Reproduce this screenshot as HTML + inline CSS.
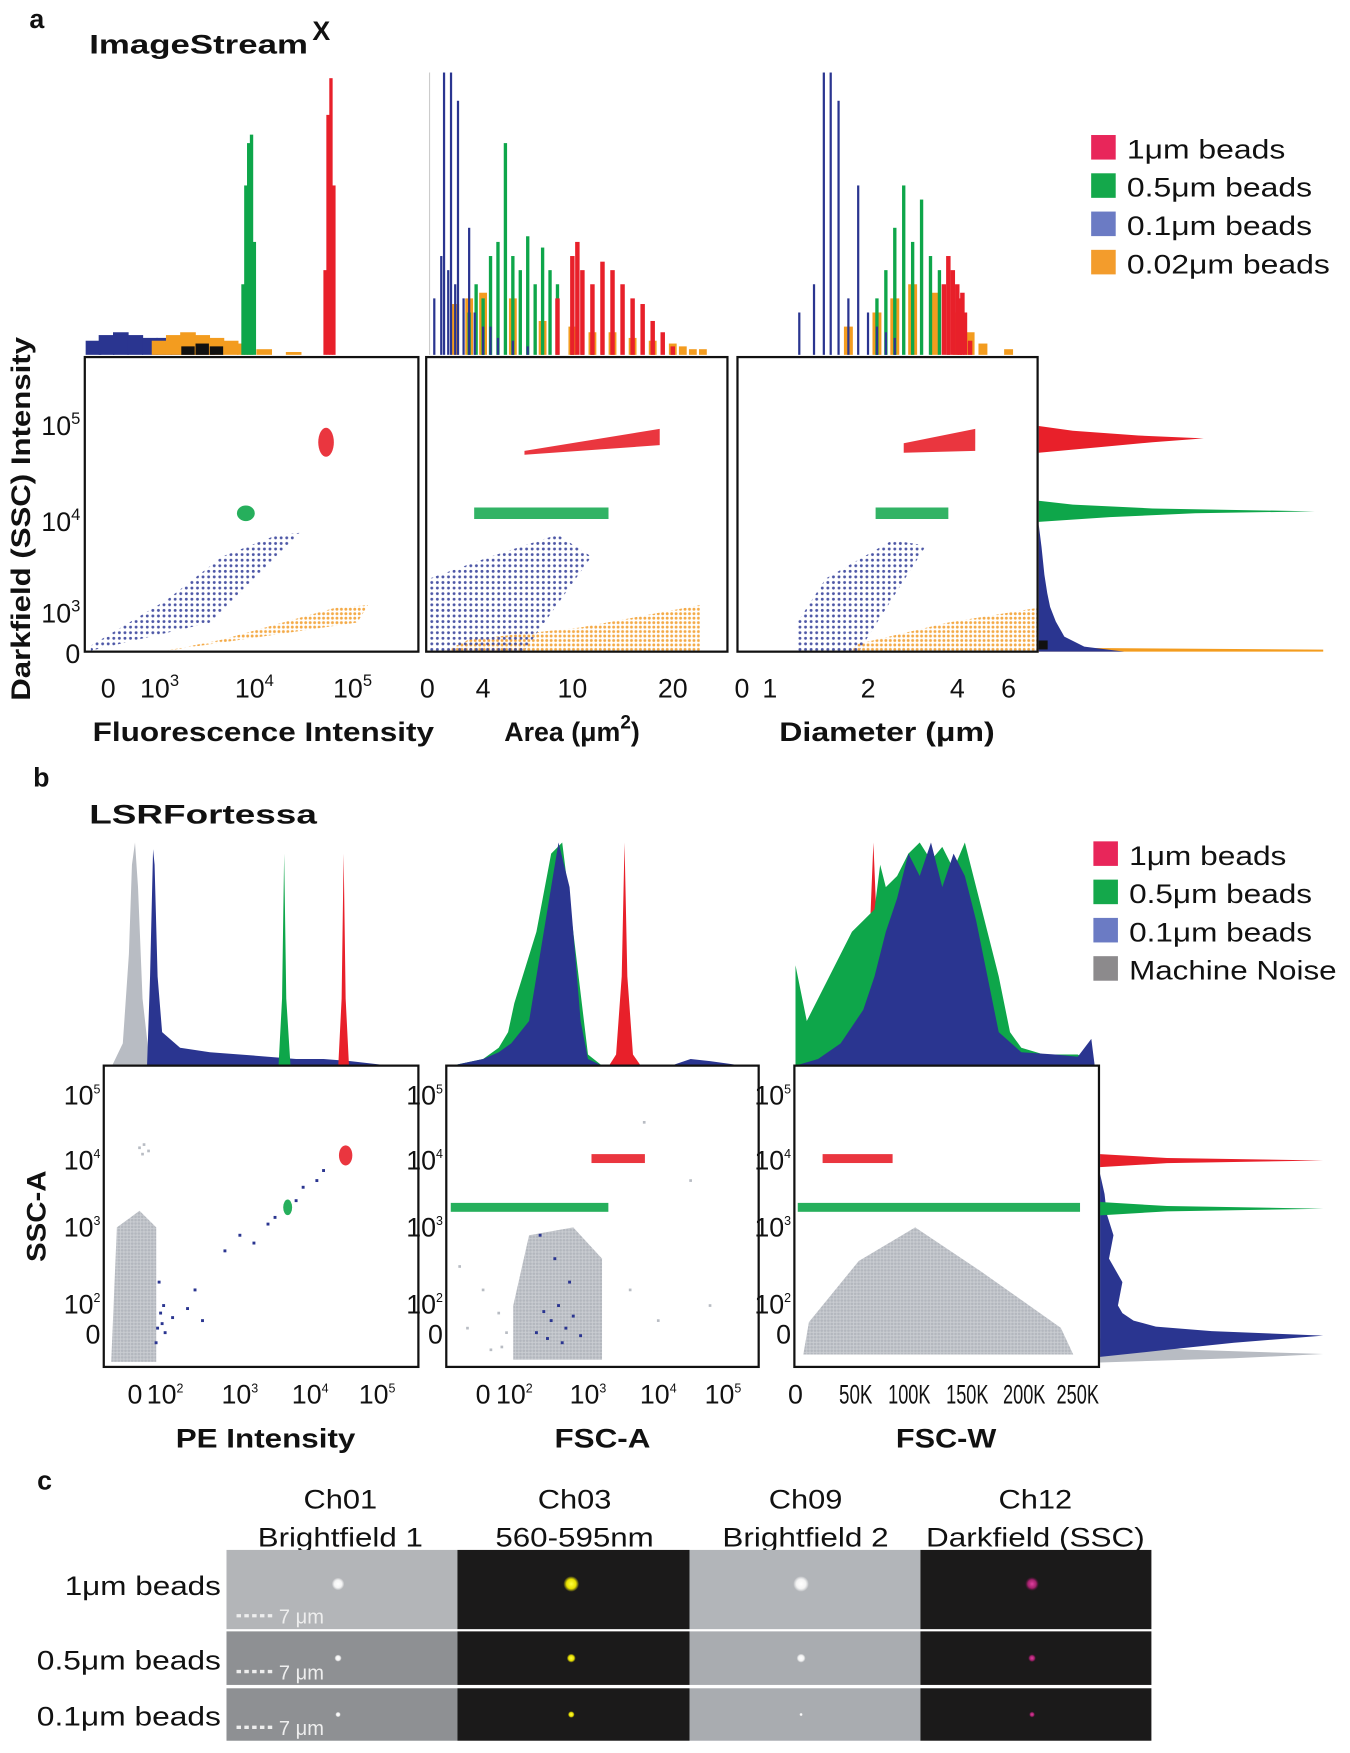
<!DOCTYPE html>
<html><head><meta charset="utf-8"><title>Bead figure</title>
<style>
html,body{margin:0;padding:0;background:#fff;}
svg{display:block;}
text{font-family:"Liberation Sans",sans-serif;}
.t{font-size:24px;fill:#111;}
.b{font-weight:bold;}
</style></head>
<body>
<svg id="fig" xmlns="http://www.w3.org/2000/svg" width="1350" height="1753" viewBox="0 0 1210 1571" preserveAspectRatio="none">
<defs>
<pattern id="pBlue" patternUnits="userSpaceOnUse" width="5" height="5"><circle cx="2" cy="2" r="1.3" fill="#2e3a96" opacity="0.85"/></pattern>
<pattern id="pOrange" patternUnits="userSpaceOnUse" width="4" height="4"><circle cx="2" cy="2" r="1.3" fill="#f3a133" opacity="0.9"/></pattern>
<pattern id="pGray" patternUnits="userSpaceOnUse" width="3" height="3"><rect width="3" height="3" fill="#c9ccd1"/><circle cx="1.5" cy="1.5" r="1.2" fill="#b3b7be"/></pattern>
<radialGradient id="gYel"><stop offset="0" stop-color="#ffff40"/><stop offset="0.6" stop-color="#e8e000"/><stop offset="1" stop-color="#e8e000" stop-opacity="0"/></radialGradient>
<radialGradient id="gWhite"><stop offset="0" stop-color="#fff"/><stop offset="0.6" stop-color="#f4f4f4"/><stop offset="1" stop-color="#fff" stop-opacity="0"/></radialGradient>
<radialGradient id="gMag"><stop offset="0" stop-color="#e040a0"/><stop offset="0.6" stop-color="#a0206a"/><stop offset="1" stop-color="#601040" stop-opacity="0"/></radialGradient>
</defs>
<g id="root"></g>
</svg>
<script>
// ---------------- DATA ----------------
const fluorBlueX=[2.3,2.45,2.6,2.75,2.9,3.05,3.2,3.35,3.5];
const fluorBlueH=[5,7,8,7,6,6,5,4,3];
const fluorOrangeX=[3.0,3.15,3.3,3.45,3.6,3.75,3.9,4.1,4.4];
const fluorOrangeH=[5,7,8,7,6,5,4,2,1];
const fluorBlackX=[3.3,3.45,3.6];
const fluorBlackH=[3,4,3];
const fluorGreenX=[3.88,3.91,3.94,3.97,4.0];
const fluorGreenH=[25,60,75,78,40];
const fluorRedX=[4.72,4.75,4.78,4.81];
const fluorRedH=[30,85,98,60];

const areaBlueX=[0.5,1.0,1.2,1.5,1.7,2.0,2.2,2.6,3.0,3.4,4.0,4.5,5.0,6.0,7.0];
const areaBlueH=[20,35,100,30,100,25,90,20,45,15,10,10,6,5,3];
const areaOrangeX=[2,3,4,6,8,10,12,14,16,18,20,22,24,26];
const areaOrangeH=[18,20,22,20,12,10,8,8,6,5,4,3,2,2];
const areaGreenX=[3,3.5,4,4.5,5,5.5,6,6.5,7,7.5,8,8.5,9,10,11,12,13];
const areaGreenH=[15,25,20,35,40,75,35,30,42,25,38,30,25,30,20,15,10];
const areaRedX=[9,10,10.5,11,12,13,14,15,16,17,18,19,20];
const areaRedH=[20,35,40,30,25,33,30,25,20,18,12,8,3];

const diamBlueX=[1.3,1.45,1.55,1.62,1.7,1.8,1.9,2.0,2.2,2.4,2.6];
const diamBlueH=[15,25,100,100,90,20,60,15,10,8,6];
const diamOrangeX=[1.8,2.2,2.6,3.0,3.5,4.0,4.5,5,6];
const diamOrangeH=[10,15,20,25,22,15,8,4,2];
const diamGreenX=[2.2,2.4,2.6,2.8,3.0,3.2,3.4,3.6,3.8];
const diamGreenH=[20,30,45,60,40,55,35,30,20];
const diamRedX=[3.7,3.8,3.9,4.0,4.1,4.2,4.3,4.5];
const diamRedH=[25,35,30,25,20,22,15,5];

const sscRedY=[4.7,4.76,4.81,4.85,4.88,4.93,4.98];
const sscRedL=[0,22,40,58,35,12,0];
const sscGreenY=[3.98,4.03,4.07,4.09,4.12,4.16,4.2];
const sscGreenL=[0,25,55,97,40,12,0];
const sscBlueY=[2.6,2.65,2.75,2.9,3.05,3.2,3.4,3.7,3.95];
const sscBlueL=[30,16,9,6,4,3,2,1,0];
const sscOrangeY=[2.6,2.62,2.64];
const sscOrangeL=[100,100,0];

const fluorBlueCloudX=[2.27,3.54,4.47,4.24,3.66,3.08,2.27];
const fluorBlueCloudY=[2.61,2.89,3.86,3.84,3.6,3.13,2.66];
const fluorOrangeBandX=[3.08,5.05,5.16,4.82,3.66];
const fluorOrangeBandY=[2.61,2.89,3.07,3.04,2.72];
const fluorRedCluster=[4.73,4.81];
const fluorGreenCluster=[3.91,4.07];
const areaBlueCloudX=[0.16,6.78,11.9,9.0,4.5,0.16];
const areaBlueCloudY=[2.61,2.61,3.6,3.84,3.6,3.36];
const areaOrangeBandX=[1.36,25.4,25.4,10.8,2.96];
const areaOrangeBandY=[2.61,2.61,3.07,2.84,2.72];
const areaRedBandX=[6.78,18.7,18.7,6.78];
const areaRedBandY=[4.72,4.95,4.78,4.68];
const areaGreenBandX=[3.36,13.6,13.6,3.36];
const areaGreenBandY=[4.13,4.13,4.01,4.01];
const diamBlueCloudX=[1.28,1.91,3.3,2.55,1.57,1.28];
const diamBlueCloudY=[2.61,2.61,3.72,3.78,3.36,2.89];
const diamOrangeBandX=[1.80,7.13,7.13,3.8,1.91];
const diamOrangeBandY=[2.61,2.61,3.04,2.89,2.68];
const diamRedBandX=[2.8,4.7,4.7,2.8];
const diamRedBandY=[4.80,4.95,4.72,4.70];
const diamGreenBandX=[2.17,3.8,3.8,2.17];
const diamGreenBandY=[4.13,4.13,4.01,4.01];

const peGrayX=[-1.5,-0.8,-0.4,-0.2,0,0.2,0.5,1.0];
const peGrayH=[0,10,50,90,100,80,30,0];
const peBlueX=[0.8,1.0,1.2,1.3,1.5,1.8,2.2,2.6,3.0,3.4,3.8,4.2,4.6,5.2];
const peBlueH=[0,40,97,90,40,15,8,6,5,4,3,3,2,0];
const peGreenX=[3.55,3.6,3.63,3.66,3.72];
const peGreenH=[0,30,95,30,0];
const peRedX=[4.42,4.47,4.5,4.53,4.58];
const peRedH=[0,30,95,30,0];
const fscaGreenX=[-2,0,1,1.6,2.0,2.3,2.5,2.65,2.8,3.0,3.2];
const fscaGreenH=[0,3,8,15,28,60,95,100,60,5,0];
const fscaBlueX=[-2,0,1,1.8,2.2,2.45,2.6,2.75,2.9,3.0,3.2,4.2,4.5,4.8,5.3];
const fscaBlueH=[0,3,6,10,20,70,100,80,20,3,0,0,3,2,0];
const fscaRedX=[3.3,3.4,3.48,3.52,3.56,3.64,3.75];
const fscaRedH=[0,5,40,100,40,5,0];
const fscwGreenX=[0,10,30,50,60,70,75,80,90,100,110,120,130,140,150,160,170,180,190,200,220,250,265];
const fscwGreenH=[45,20,40,60,65,70,90,80,85,95,100,92,98,88,100,80,60,40,15,8,5,5,0];
const fscwBlueX=[0,20,40,60,70,80,90,100,110,120,130,140,150,160,170,180,200,230,250,262,265];
const fscwBlueH=[0,3,10,25,40,60,75,95,85,100,80,95,85,65,40,15,6,5,4,12,0];
const fscwRedX=[60,65,69,73,78];
const fscwRedH=[0,50,100,50,0];

const sscbRedY=[3.9,3.96,4.0,4.04,4.1];
const sscbRedL=[0,30,100,30,0];
const sscbGreenY=[3.18,3.24,3.28,3.32,3.38];
const sscbGreenL=[0,30,100,30,0];
const sscbGrayY=[-1.9,-1.6,-1.3,-1.0,-0.6,-0.2];
const sscbGrayL=[0,60,100,40,10,0];
const sscbBlueY=[-1.5,-1,-0.5,0,0.3,0.6,1.0,1.5,2.0,2.3,2.6,2.9,3.2,3.5,3.8];
const sscbBlueL=[0,30,60,100,50,25,15,10,8,10,4,6,3,2,0];

const peGrayCloudX=[-1.56,1.41,1.41,0.3,-1.19];
const peGrayCloudY=[-1.85,-1.85,3.0,3.25,3.0];
const peBluePtsX=[1.5,1.7,1.9,2.1,1.6,2.3,2.5,1.8,2.8,2.4,3.0,3.2,3.4,3.5,3.8,3.9,4.1,4.2,1.4,2.0];
const peBluePtsY=[0.5,1.5,2.0,1.2,2.3,1.8,1.0,0.8,2.7,2.2,2.9,2.8,3.05,3.15,3.4,3.6,3.7,3.85,-0.5,0.2];
const peRedCluster=[4.53,4.08];
const peGreenCluster=[3.68,3.3];
const peGrayPtsX=[0.3,0.6,0.5,0.9];
const peGrayPtsY=[4.2,4.25,4.1,4.15];
const fscaGrayCloudX=[1.93,3.2,3.2,2.8,2.2,1.93];
const fscaGrayCloudY=[-1.7,-1.7,2.6,3.0,2.9,2.0];
const fscaGrayPtsX=[-1.5,-1,0,0.5,1,1.5,3.6,4.0,4.5,4.8,3.8,1.2];
const fscaGrayPtsY=[2.5,0.5,2.2,-1,1.5,0.2,2.2,1.0,3.7,2.0,4.6,-0.8];
const fscaBluePtsX=[2.3,2.5,2.6,2.7,2.4,2.55,2.8,2.65,2.45,2.75,2.35,2.9];
const fscaBluePtsY=[0.2,1.0,2.0,0.5,1.6,2.6,1.3,-0.5,-0.2,2.3,2.9,0.0];
const fscaGreenBand=[-2.07,3.29,3.3];
const fscaRedBand=[3.05,3.81,4.03];
const fscwGrayCloudX=[6.9,246,235,165,106,56,11.9];
const fscwGrayCloudY=[-1.33,-1.33,0.52,2.43,3.0,2.57,0.9];
const fscwGreenBand=[2,252,3.3];
const fscwRedBand=[24,86,4.03];

// ---------------- RENDER ----------------
const NS='http://www.w3.org/2000/svg';
const root=document.getElementById('root');
function el(tag,attrs,parent){const e=document.createElementNS(NS,tag);for(const k in attrs)e.setAttribute(k,attrs[k]);(parent||root).appendChild(e);return e;}
function pw(anch){return v=>{let i=0;while(i<anch.length-2&&v>anch[i+1][0])i++;const a=anch[i],b=anch[i+1];return a[1]+(v-a[0])*(b[1]-a[1])/(b[0]-a[0]);};}
function txt(x,y,s,cls,anchor,name,size,len){const t=el('text',{x:x,y:y,class:cls||'t','text-anchor':anchor||'middle'});if(size)t.setAttribute('font-size',size);if(len){t.setAttribute('textLength',len);t.setAttribute('lengthAdjust','spacingAndGlyphs');}t.textContent=s;return t;}
function pow10(x,y,e,size,anchor,name){const t=el('text',{x:x,y:y,class:'t','text-anchor':anchor||'middle','font-size':size||24});t.appendChild(document.createTextNode('10'));const s=el('tspan',{dy:-10,'font-size':(size||24)*0.62},t);s.textContent=e;return t;}

const aY=pw([[2.6,584],[3,548],[4,466],[5,380],[6,294]]);
const aXf=pw([[2.2,76],[2.47,97],[3,143],[4,228],[5,316],[6,402]]);
const aXa=pw([[0,383],[4,433],[10,513],[20,603],[30,648]]);
const aXd=pw([[0,665],[1,690],[2,778],[4,858],[6,904],[8,950]]);
const aHtop=h=>318-h*2.53;
const bY=pw([[-3,1235],[0,1197],[2,1170],[3,1100],[4,1040],[5,983],[6,926]]);
const bXp=pw([[-3,80],[0,121],[2,148],[3,215],[4,278],[5,338],[6,398]]);
const bXa=pw([[-3,391],[0,433],[2,461],[3,527],[4,590],[5,648],[6,706]]);
const bXw=v=>713+v*1.012;
const bHtop=h=>955-h*2.0;

const C={red:'#e8202a',green:'#0ea64a',blue:'#2a3590',orange:'#f39c1f',gray:'#b8bcc3',black:'#111'};

function bars(g,X,H,xs,ys,color,w,name){X.forEach((x,i)=>{const px=xs(x),py=ys(H[i]);const r=el('rect',{x:px-w/2,y:py,width:w,height:318-py,fill:color},g);});}
function area(g,X,H,xs,ys,base,color,name){let d='M'+xs(X[0])+','+base;X.forEach((x,i)=>{d+=' L'+xs(x)+','+ys(H[i]);});d+=' L'+xs(X[X.length-1])+','+base+' Z';const p=el('path',{d:d,fill:color},g);}
function varea(g,Y,L,ys,x0,scale,color,name){let d='M'+x0+','+ys(Y[0]);Y.forEach((y,i)=>{d+=' L'+(x0+L[i]*scale)+','+ys(y);});d+=' L'+x0+','+ys(Y[Y.length-1])+' Z';const p=el('path',{d:d,fill:color},g);}
function poly(g,X,Y,xs,ys,fill,name,op){const pts=X.map((x,i)=>xs(x)+','+ys(Y[i])).join(' ');const p=el('polygon',{points:pts,fill:fill,opacity:op||1},g);}
function blob(g,c,xs,ys,rx,ry,color,name){const e=el('ellipse',{cx:xs(c[0]),cy:ys(c[1]),rx:rx,ry:ry,fill:color,opacity:0.9},g);}
function pts(g,X,Y,xs,ys,color,name,r){X.forEach((x,i)=>{const c=el('rect',{x:xs(x)-(r||1.5),y:ys(Y[i])-(r||1.5),width:2*(r||1.5),height:2*(r||1.5),fill:color},g);});}
function band(g,b,xs,ys,h,color,name){const r=el('rect',{x:xs(b[0]),y:ys(b[2])-h/2,width:xs(b[1])-xs(b[0]),height:h,fill:color,opacity:0.9},g);}
function box(x,y,w,h,name){const r=el('rect',{x:x,y:y,width:w,height:h,fill:'none',stroke:'#111','stroke-width':2});}
function grp(name){const g=el('g',{});return g;}

// ===== Panel a =====
txt(33,25,'a','t b','middle','panel-a-letter',26);
const ttl=txt(80,48,'ImageStream','t b','start','panel-a-title',30,196);
const sx=el('text',{x:280,y:36,class:'t b','font-size':20});sx.textContent='X';

let g=grp('fluor-top-histogram');
bars(g,fluorBlueX,fluorBlueH,aXf,aHtop,C.blue,14,'hist-bar-blue');
bars(g,fluorOrangeX,fluorOrangeH,aXf,aHtop,C.orange,14,'hist-bar-orange');
bars(g,fluorBlackX,fluorBlackH,aXf,aHtop,C.black,12,'hist-bar-black');
bars(g,fluorGreenX,fluorGreenH,aXf,aHtop,C.green,3,'hist-bar-green');
bars(g,fluorRedX,fluorRedH,aXf,aHtop,C.red,3,'hist-bar-red');
g=grp('area-top-histogram');
el('line',{x1:385,y1:65,x2:385,y2:318,stroke:'#ccc','stroke-width':1},g);
bars(g,areaOrangeX,areaOrangeH,aXa,aHtop,C.orange,7,'hist-bar-orange');
bars(g,areaGreenX,areaGreenH,aXa,aHtop,C.green,3,'hist-bar-green');
bars(g,areaRedX,areaRedH,aXa,aHtop,C.red,4,'hist-bar-red');
bars(g,areaBlueX,areaBlueH,aXa,aHtop,C.blue,2,'hist-bar-blue');
g=grp('diameter-top-histogram');
bars(g,diamOrangeX,diamOrangeH,aXd,aHtop,C.orange,8,'hist-bar-orange');
bars(g,diamGreenX,diamGreenH,aXd,aHtop,C.green,3,'hist-bar-green');
bars(g,diamRedX,diamRedH,aXd,aHtop,C.red,4,'hist-bar-red');
bars(g,diamBlueX,diamBlueH,aXd,aHtop,C.blue,2,'hist-bar-blue');
g=grp('ssc-right-histogram');
varea(g,sscOrangeY,sscOrangeL,aY,931,2.55,C.orange,'hist-orange');
varea(g,sscBlueY,sscBlueL,aY,931,2.55,C.blue,'hist-blue');
varea(g,sscGreenY,sscGreenL,aY,931,2.55,C.green,'hist-green');
varea(g,sscRedY,sscRedL,aY,931,2.55,C.red,'hist-red');
el('rect',{x:931,y:574,width:8,height:8,fill:'#111'},g);

g=grp('fluor-scatter');
poly(g,fluorOrangeBandX,fluorOrangeBandY,aXf,aY,'url(#pOrange)','orange-points');
poly(g,fluorBlueCloudX,fluorBlueCloudY,aXf,aY,'url(#pBlue)','blue-points');
blob(g,fluorRedCluster,aXf,aY,7,13,C.red,'red-cluster');
blob(g,fluorGreenCluster,aXf,aY,8,7,C.green,'green-cluster');
g=grp('area-scatter');
poly(g,areaOrangeBandX,areaOrangeBandY,aXa,aY,'url(#pOrange)','orange-points');
poly(g,areaBlueCloudX,areaBlueCloudY,aXa,aY,'url(#pBlue)','blue-points');
poly(g,areaRedBandX,areaRedBandY,aXa,aY,C.red,'red-cluster',0.9);
poly(g,areaGreenBandX,areaGreenBandY,aXa,aY,C.green,'green-cluster',0.85);
g=grp('diameter-scatter');
poly(g,diamOrangeBandX,diamOrangeBandY,aXd,aY,'url(#pOrange)','orange-points');
poly(g,diamBlueCloudX,diamBlueCloudY,aXd,aY,'url(#pBlue)','blue-points');
poly(g,diamRedBandX,diamRedBandY,aXd,aY,C.red,'red-cluster',0.9);
poly(g,diamGreenBandX,diamGreenBandY,aXd,aY,C.green,'green-cluster',0.85);
box(76,320,299,264,'fluor-plot-frame');box(382,320,270,264,'area-plot-frame');box(661,320,269,264,'diameter-plot-frame');

const ay=txt(0,0,'Darkfield (SSC) Intensity','t b','middle','y-axis-title-a',27,326);ay.setAttribute('transform','translate(27,465) rotate(-90)');
pow10(72,390,'5',24,'end','y-tick-1e5');pow10(72,476,'4',24,'end','y-tick-1e4');pow10(72,558,'3',24,'end','y-tick-1e3');txt(72,594,'0','t','end','y-tick-0');
txt(97,625,'0','t','middle','x-tick');pow10(143,625,'3',24,'middle','x-tick');pow10(228,625,'4',24,'middle','x-tick');pow10(316,625,'5',24,'middle','x-tick');
[['0',383],['4',433],['10',513],['20',603]].forEach(a=>txt(a[1],625,a[0],'t','middle','x-tick'));
[['0',665],['1',690],['2',778],['4',858],['6',904]].forEach(a=>txt(a[1],625,a[0],'t','middle','x-tick'));
txt(236,664,'Fluorescence Intensity','t b','middle','x-axis-title-fluorescence',27,306);
const at=txt(452,664,'Area (μm','t b','start','x-axis-title-area',27);const s2=el('tspan',{dy:-11,'font-size':17},at);s2.textContent='2';const s3=el('tspan',{dy:11},at);s3.textContent=')';
txt(795,664,'Diameter (μm)','t b','middle','x-axis-title-diameter',27,193);

function legend(x,y0,items,name){const g=grp(name);items.forEach((it,i)=>{const y=y0+i*34.3;const r=el('rect',{x:x,y:y-12,width:22,height:22,fill:it[1]},g);const t=el('text',{x:x+32,y:y+9,class:'t','font-size':27,textLength:it[2],lengthAdjust:'spacingAndGlyphs'},g);t.textContent=it[0];});}
legend(978,133,[['1μm beads','#e8265a',142],['0.5μm beads','#14a84b',166],['0.1μm beads','#6b7bc4',166],['0.02μm beads','#f39c2c',182]],'legend-a');

// ===== Panel b =====
txt(37,705,'b','t b','middle','panel-b-letter',26);
txt(80,738,'LSRFortessa','t b','start','panel-b-title',30,204);
g=grp('pe-top-histogram');
area(g,peGrayX,peGrayH,bXp,bHtop,955,C.gray,'hist-gray');
area(g,peBlueX,peBlueH,bXp,bHtop,955,C.blue,'hist-blue');
area(g,peGreenX,peGreenH,bXp,bHtop,955,C.green,'hist-green');
area(g,peRedX,peRedH,bXp,bHtop,955,C.red,'hist-red');
g=grp('fsca-top-histogram');
area(g,fscaGreenX,fscaGreenH,bXa,bHtop,955,C.green,'hist-green');
area(g,fscaBlueX,fscaBlueH,bXa,bHtop,955,C.blue,'hist-blue');
area(g,fscaRedX,fscaRedH,bXa,bHtop,955,C.red,'hist-red');
g=grp('fscw-top-histogram');
area(g,fscwRedX,fscwRedH,bXw,bHtop,955,C.red,'hist-red');
area(g,fscwGreenX,fscwGreenH,bXw,bHtop,955,C.green,'hist-green');
area(g,fscwBlueX,fscwBlueH,bXw,bHtop,955,C.blue,'hist-blue');
g=grp('sscb-right-histogram');
varea(g,sscbGrayY,sscbGrayL,bY,986,2.0,C.gray,'hist-gray');
varea(g,sscbBlueY,sscbBlueL,bY,986,2.0,C.blue,'hist-blue');
varea(g,sscbGreenY,sscbGreenL,bY,986,2.0,C.green,'hist-green');
varea(g,sscbRedY,sscbRedL,bY,986,2.0,C.red,'hist-red');

g=grp('pe-scatter');
poly(g,peGrayCloudX,peGrayCloudY,bXp,bY,'url(#pGray)','gray-points');
pts(g,peGrayPtsX,peGrayPtsY,bXp,bY,C.gray,'gray-point',1.2);
pts(g,peBluePtsX,peBluePtsY,bXp,bY,C.blue,'blue-point',1.3);
blob(g,peRedCluster,bXp,bY,6,9,C.red,'red-cluster');
blob(g,peGreenCluster,bXp,bY,4,7,C.green,'green-cluster');
g=grp('fsca-scatter');
poly(g,fscaGrayCloudX,fscaGrayCloudY,bXa,bY,'url(#pGray)','gray-points');
pts(g,fscaGrayPtsX,fscaGrayPtsY,bXa,bY,C.gray,'gray-point',1.2);
pts(g,fscaBluePtsX,fscaBluePtsY,bXa,bY,C.blue,'blue-point',1.3);
band(g,fscaGreenBand,bXa,bY,8,C.green,'green-band');
band(g,fscaRedBand,bXa,bY,8,C.red,'red-band');
g=grp('fscw-scatter');
poly(g,fscwGrayCloudX,fscwGrayCloudY,bXw,bY,'url(#pGray)','gray-points');
band(g,fscwGreenBand,bXw,bY,8,C.green,'green-band');
band(g,fscwRedBand,bXw,bY,8,C.red,'red-band');
box(93,955,282,270,'pe-plot-frame');box(400,955,280,270,'fsca-plot-frame');box(712,955,273,270,'fscw-plot-frame');

const by=txt(0,0,'SSC-A','t b','middle','y-axis-title-b',27,82);by.setAttribute('transform','translate(41,1090) rotate(-90)');
[[93,'pe'],[400,'fsca'],[712,'fscw']].forEach(p=>{const x=p[0]-3;pow10(x,990,'5',18,'end','y-tick');pow10(x,1048,'4',18,'end','y-tick');pow10(x,1108,'3',18,'end','y-tick');pow10(x,1177,'2',18,'end','y-tick');txt(x,1204,'0','t','end','y-tick',18);});
txt(121,1258,'0','t','middle','x-tick',18);pow10(148,1258,'2',18,'middle','x-tick');pow10(215,1258,'3',18,'middle','x-tick');pow10(278,1258,'4',18,'middle','x-tick');pow10(338,1258,'5',18,'middle','x-tick');
txt(433,1258,'0','t','middle','x-tick',18);pow10(461,1258,'2',18,'middle','x-tick');pow10(527,1258,'3',18,'middle','x-tick');pow10(590,1258,'4',18,'middle','x-tick');pow10(648,1258,'5',18,'middle','x-tick');
txt(713,1258,'0','t','middle','x-tick',17);
[['50K',767,30],['100K',815,38],['150K',867,38],['200K',918,38],['250K',966,38]].forEach(a=>txt(a[1],1258,a[0],'t','middle','x-tick',17,a[2]));
txt(238,1297,'PE Intensity','t b','middle','x-axis-title-pe',27,161);
txt(540,1297,'FSC-A','t b','middle','x-axis-title-fsca',27,86);
txt(848,1297,'FSC-W','t b','middle','x-axis-title-fscw',27,90);
legend(980,766,[['1μm beads','#e8265a',141],['0.5μm beads','#14a84b',164],['0.1μm beads','#6b7bc4',164],['Machine Noise','#8c8a8c',186]],'legend-b');

// ===== Panel c =====
txt(40,1335,'c','t b','middle','panel-c-letter',26);
const heads=[['Ch01','Brightfield 1',305,148],['Ch03','560-595nm',515,142],['Ch09','Brightfield 2',722,149],['Ch12','Darkfield (SSC)',928,196]];
heads.forEach(h=>{txt(h[2],1352,h[0],'t','middle','channel-name',27,66);txt(h[2],1386,h[1],'t','middle','channel-desc',27,h[3]);});
const rows=[['1μm beads',1389,1460,7,140],['0.5μm beads',1462,1510,4,165],['0.1μm beads',1513,1560,3,165]];
const colX=[203,410,618,825,1032];
rows.forEach((r,ri)=>{
  const gg=grp('image-row-'+(ri+1));
  const cols=[ri==0?'#b3b5b8':'#8e9093','#1b1a1a',ri==0?'#b2b5b9':'#a9acb0','#1b1a1a'];
  const cy=(r[1]+r[2])/2+(ri==0?-5:0);
  cols.forEach((c,ci)=>{el('rect',{x:colX[ci],y:r[1],width:colX[ci+1]-colX[ci],height:r[2]-r[1],fill:c},gg);});
  el('circle',{cx:303,cy:cy,r:r[3]*0.8,fill:'url(#gWhite)'},gg);
  el('circle',{cx:512,cy:cy,r:r[3],fill:'url(#gYel)'},gg);
  el('circle',{cx:718,cy:cy,r:r[3]*(ri==2?0.5:1),fill:'url(#gWhite)'},gg);
  el('circle',{cx:925,cy:cy,r:r[3]*0.9,fill:'url(#gMag)'},gg);
  el('line',{x1:212,y1:r[2]-12,x2:246,y2:r[2]-12,stroke:'#eee','stroke-width':3,'stroke-dasharray':'4 3'},gg);
  const st=el('text',{x:250,y:r[2]-5,fill:'#eee','font-size':18},gg);st.textContent='7 μm';
  txt(198,cy+10,r[0],'t','end','row-label',27,r[4]);
});
</script>
</body></html>
